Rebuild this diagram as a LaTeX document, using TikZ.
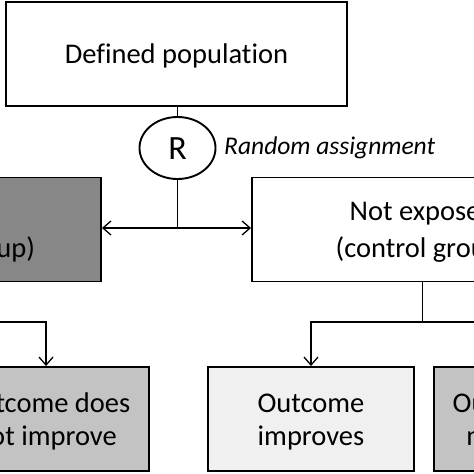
\documentclass[tikz,border=0pt]{standalone}
\usepackage{fontspec}
\setmainfont{Carlito}[Ligatures={NoCommon}]
\usetikzlibrary{arrows.meta,shapes.geometric}
\definecolor{darkfill}{HTML}{878787}
\definecolor{midfill}{HTML}{C3C3C3}
\definecolor{lightfill}{HTML}{F0F0F0}
\begin{document}
\begin{tikzpicture}[x=1pt,y=-1pt,
  bigbox/.style={draw=black, line width=1.9pt, rectangle, minimum width=341pt, minimum height=104pt, inner sep=0pt},
  outbox/.style={draw=black, line width=1.9pt, rectangle, minimum width=206pt, minimum height=104pt, inner sep=0pt},
  lbl/.style={font=\fontsize{28.5}{34}\selectfont, anchor=base, inner sep=0pt},
  conn/.style={line width=1.3pt},
  tipped/.style={conn, -{Straight Barb[length=8pt,width=14pt,line width=1.3pt]}},
  both/.style={conn, {Straight Barb[length=8pt,width=14pt,line width=1.3pt]}-{Straight Barb[length=8pt,width=14pt,line width=1.3pt]}}
]
\useasboundingbox (0,0) rectangle (474,474);
\clip (0,0) rectangle (474,474);
\fill[white] (0,0) rectangle (474,474);

% boxes
\node[bigbox, fill=white] (pop) at (176.5,54) {};
\node[draw=black, line width=1.9pt, ellipse, minimum width=76pt, minimum height=62pt, inner sep=0pt, fill=white] (R) at (177.5,148) {};
\node[bigbox, fill=darkfill] (expo) at (-69.5,229.5) {};
\node[bigbox, fill=white] (ctrl) at (422.5,229.5) {};
\node[outbox, fill=midfill] (lb) at (46,419) {};
\node[outbox, fill=lightfill] (mb) at (311,419) {};
\node[outbox, fill=midfill] (rb) at (537,419) {};

% texts
\node[lbl] (tpop) at (176.5,63) {Defined population};
\node[font=\fontsize{34}{38}\selectfont, anchor=base, inner sep=0pt] (tR) at (177.5,159) {R};
\node[font=\fontsize{25.5}{30}\selectfont\itshape, anchor=base west, inner sep=0pt] (tra) at (224,154) {Random assignment};
\node[lbl] (te1) at (-69.5,220) {Exposed};
\node[lbl] (te2) at (-69.5,257) {(treatment group)};
\node[lbl] (tc1) at (422.5,220) {Not exposed};
\node[lbl] (tc2) at (422.5,257) {(control group)};
\node[lbl] (tl1) at (46,412) {Outcome does};
\node[lbl] (tl2) at (46,445) {not improve};
\node[lbl] (tm1) at (311,412) {Outcome};
\node[lbl] (tm2) at (311,445) {improves};
\node[lbl] (tr1) at (537,412) {Outcome does};
\node[lbl] (tr2) at (537,445) {not improve};

% connectors
\coordinate (J) at (177.5,228);
\draw[conn] (pop.south -| R.north) -- (R.north);
\draw[conn] (R.south) -- (J);
\draw[both] (expo.east |- J) -- (ctrl.west |- J);
\coordinate (cj) at (ctrl.south |- 0,322);
\draw[conn] (ctrl.south) -- (cj);
\draw[tipped] (cj) -| (mb.north);
\draw[tipped] (cj) -| (rb.north);
\coordinate (ej) at (expo.south |- 0,322);
\draw[conn] (expo.south) -- (ej);
\draw[tipped] (ej) -| (lb.north);
\end{tikzpicture}
\end{document}
